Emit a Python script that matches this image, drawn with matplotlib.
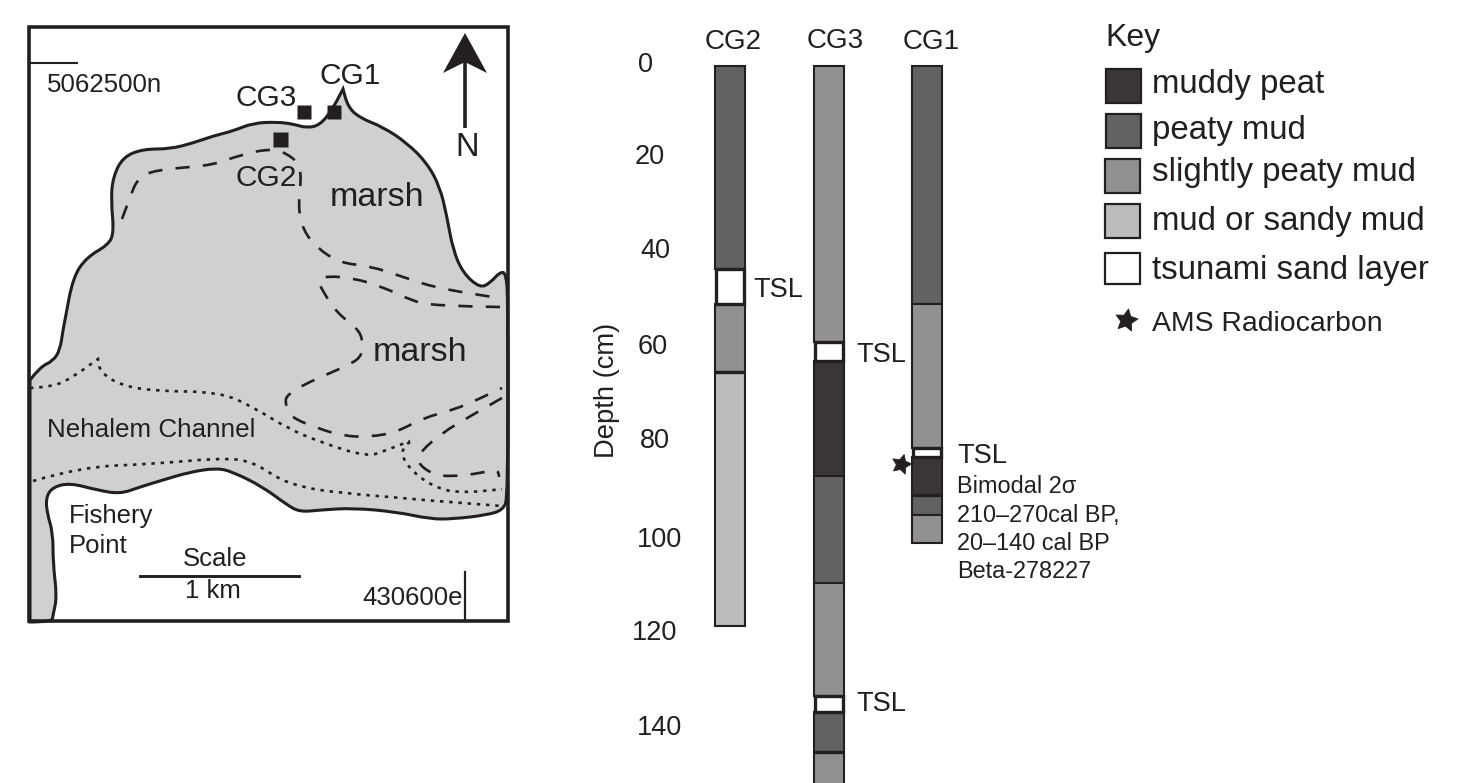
"""
Core site map and stratigraphic columns with a key
"""
import matplotlib
matplotlib.use('Agg')
import matplotlib.pyplot as plt
from matplotlib.path import Path
from matplotlib.patches import PathPatch, Rectangle, Polygon

plt.rcParams['font.family'] = ['Liberation Sans', 'DejaVu Sans']

INK = '#231f20'
MUDDY_PEAT = '#3a3536'
PEATY_MUD = '#636162'
SLIGHTLY_PEATY = '#929091'
SANDY_MUD = '#bcbcbc'
TSUNAMI = '#ffffff'
MARSH = '#d0d0d0'

# core logs: layer boundaries (cm depth) and what sits between them
cg2_depths = [0, 43.2, 50.6, 65.0, 118.8]
cg2_layers = [PEATY_MUD, TSUNAMI, SLIGHTLY_PEATY, SANDY_MUD]
cg3_depths = [0, 58.5, 62.7, 86.9, 109.6, 133.5, 136.9, 145.4, 156]
cg3_layers = [SLIGHTLY_PEATY, TSUNAMI, MUDDY_PEAT, PEATY_MUD, SLIGHTLY_PEATY, TSUNAMI, PEATY_MUD, SLIGHTLY_PEATY]
cg1_depths = [0, 50.6, 81.0, 83.0, 91.0, 95.2, 101.2]
cg1_layers = [PEATY_MUD, SLIGHTLY_PEATY, TSUNAMI, MUDDY_PEAT, PEATY_MUD, SLIGHTLY_PEATY]

# contacts drawn heavier than the rest
heavy_contact_core = [730, 829, 927]
heavy_contact_depth = [65.0, 145.4, 91.0]

dated_depth = 84.5

depth_labels = ['0', '20', '40', '60', '80', '100', '120', '140']
depth_label_x = [638, 635, 640, 638, 640, 637, 632, 637]
depth_label_y = [72, 164, 258, 354, 448, 547, 640, 735]

key_names = ['muddy peat', 'peaty mud', 'slightly peaty mud', 'mud or sandy mud', 'tsunami sand layer']
key_colors = [MUDDY_PEAT, PEATY_MUD, SLIGHTLY_PEATY, SANDY_MUD, TSUNAMI]
key_x = [1106, 1106, 1105, 1105, 1105]
key_top = [69, 114, 159, 204, 253]
key_bottom = [103, 148, 193, 238, 284]
key_text_y = [93, 139, 181, 230, 279]

# map outlines, traced in map units
coast_x = [30, 40, 53, 60, 63, 65, 73, 87, 108, 114, 111, 113, 123, 143, 170, 193, 213, 233, 253, 277,
           293, 307, 320, 332, 343, 343, 348, 360, 383, 407, 427, 440, 447, 453, 463, 480, 490, 500, 506,
           508, 508, 503, 487, 453, 430, 397, 353, 320, 300, 287, 263, 233, 217, 190, 163, 140, 120,
           97, 70, 53, 46, 47, 53, 53, 57, 53, 52, 30]
coast_y = [380, 367, 361, 350, 330, 320, 277, 257, 245, 233, 200, 177, 157, 149, 149, 143, 136, 131, 123, 122,
           124, 128, 125, 110, 89, 89, 107, 118, 127, 143, 163, 187, 217, 250, 273, 288, 283, 272, 273,
           300, 497, 510, 515, 519, 519, 512, 508, 510, 512, 505, 487, 472, 468, 472, 480, 487, 494,
           490, 483, 487, 497, 513, 533, 563, 597, 615, 622, 622]

dash_a_x = [122, 130, 137, 148, 177, 213, 240, 273, 293, 302, 298, 303, 317, 340, 370, 403, 443, 500]
dash_a_y = [219, 197, 180, 172, 168, 165, 155, 148, 157, 170, 207, 230, 248, 263, 266, 277, 290, 298]
dash_b_x = [500, 433, 410, 383, 353, 327, 318, 322, 337, 357, 363, 362, 353, 330, 303, 287, 285, 290, 317, 343,
            370, 397, 423, 453, 477, 502]
dash_b_y = [307, 306, 300, 287, 278, 276, 280, 290, 313, 328, 340, 355, 363, 373, 385, 395, 403, 417, 428, 436,
            437, 432, 418, 410, 400, 388]
dash_c_x = [502, 467, 442, 420, 417, 430, 447, 483, 499, 499]
dash_c_y = [398, 418, 433, 452, 462, 473, 477, 473, 468, 477]

dot_d_x = [30, 53, 73, 98, 98, 100, 120, 153, 220, 253, 287, 320, 367, 387, 410]
dot_d_y = [388, 387, 377, 359, 359, 372, 385, 391, 392, 407, 428, 442, 457, 450, 441]
dot_e_x = [410, 400, 407, 433, 463, 502]
dot_e_y = [442, 448, 467, 487, 494, 489]
dot_f_x = [33, 80, 153, 220, 253, 287, 353, 502]
dot_f_y = [481, 467, 464, 458, 461, 485, 495, 506]

site_x = [304, 334, 280]
site_y = [112, 112, 139]
site_size = [9.6, 9.6, 10.8]


def smooth_path(xs, ys, closed=False):
    '''Quadratic bezier path through the midpoints of a traced outline'''
    pts = list(zip(xs, ys))
    verts = [pts[0]]
    codes = [Path.MOVETO]
    for i in range(1, len(pts) - 1):
        mid = ((pts[i][0] + pts[i + 1][0]) / 2, (pts[i][1] + pts[i + 1][1]) / 2)
        if i == len(pts) - 2:
            mid = pts[i + 1]
        verts += [pts[i], mid]
        codes += [Path.CURVE3, Path.CURVE3]
    if closed:
        verts.append(pts[0])
        codes.append(Path.CLOSEPOLY)
    return Path(verts, codes)


def draw_core(ax, x_mid, depths, layers):
    '''One column, tsunami layers drawn last so their heavier border stays on top'''
    for i, colour in enumerate(layers):
        white = colour == TSUNAMI
        ax.bar(x_mid, depths[i + 1] - depths[i], bottom=depths[i], width=28.3 if white else 29.5, color=colour,
               edgecolor=INK, linewidth=2.4 if white else 1.5, zorder=3 if white else 2)


def main():
    fig = plt.figure(figsize=(14.7, 7.83), dpi=100)

    ax = fig.add_axes([0, 0, 1, 1])
    ax.set_xlim(0, 1470)
    ax.set_ylim(783, 0)
    ax.axis('off')

    # map
    ax.add_patch(PathPatch(smooth_path(coast_x, coast_y, closed=True), facecolor=MARSH, edgecolor=INK,
                           linewidth=2.2, zorder=2))
    for xs, ys in [(dash_a_x, dash_a_y), (dash_b_x, dash_b_y), (dash_c_x, dash_c_y)]:
        ax.add_patch(PathPatch(smooth_path(xs, ys), facecolor='none', edgecolor=INK, linewidth=1.9,
                               linestyle=(0, (5.4, 5.0)), zorder=3))
    for xs, ys in [(dot_d_x, dot_d_y), (dot_e_x, dot_e_y), (dot_f_x, dot_f_y)]:
        ax.add_patch(PathPatch(smooth_path(xs, ys), facecolor='none', edgecolor=INK, linewidth=1.9,
                               linestyle=(0, (1.3, 2.2)), zorder=3))
    ax.add_patch(Rectangle((29, 27), 479.5, 594, facecolor='none', edgecolor=INK, linewidth=2.6, zorder=5))
    ax.plot([29, 77], [63, 63], color=INK, lw=1.5, zorder=5)
    ax.plot([465, 465], [572, 620], color=INK, lw=1.6, zorder=5)
    ax.plot([140, 299], [575.5, 575.5], color=INK, lw=2.1, zorder=5)
    for x, y, size in zip(site_x, site_y, site_size):
        ax.plot(x, y, marker='s', ms=size, mfc=INK, mec='none', zorder=6)

    # north arrow
    ax.add_patch(Polygon([(465, 33), (487, 73), (465, 62), (443, 73)], closed=True, facecolor=INK,
                         edgecolor='none', zorder=5))
    ax.plot([465, 465], [60, 128], color=INK, lw=2.6, solid_capstyle='butt', zorder=5)

    map_text = [(47, 92, '5062500n', 18.6), (236, 106, 'CG3', 21.5), (320, 84, 'CG1', 21.5), (236, 186, 'CG2', 21.5),
                (330, 206, 'marsh', 24.5), (373, 361, 'marsh', 24.5), (47, 437, 'Nehalem Channel', 18.7),
                (69, 523, 'Fishery', 18.5), (69, 553, 'Point', 18.5), (183, 566, 'Scale', 18.5),
                (185, 598, '1 km', 18.5), (362, 605, '430600e', 18.5), (455, 156, 'N', 23.5)]
    for x, y, label, size in map_text:
        ax.text(x, y, label, fontsize=size, color=INK, ha='left', va='baseline', zorder=7)

    # core columns, y is depth in cm
    axc = fig.add_axes([0, 0, 1, 1])
    axc.patch.set_alpha(0)
    axc.set_xlim(0, 1470)
    axc.set_ylim((783 - 65.5) / 4.72, -65.5 / 4.72)
    axc.axis('off')
    draw_core(axc, 730, cg2_depths, cg2_layers)
    draw_core(axc, 829, cg3_depths, cg3_layers)
    draw_core(axc, 927, cg1_depths, cg1_layers)
    for x, depth in zip(heavy_contact_core, heavy_contact_depth):
        axc.hlines(depth, x - 15, x + 15, color=INK, lw=2.4, zorder=3)
    axc.plot(901, dated_depth, marker=(5, 1, -15), ms=15, mfc=INK, mec=INK, mew=0.5, zorder=4)

    for x, y, label in [(705, 49, 'CG2'), (807, 48, 'CG3'), (903, 49, 'CG1')]:
        ax.text(x, y, label, fontsize=20, color=INK, ha='left', va='baseline')
    for x, y, label in zip(depth_label_x, depth_label_y, depth_labels):
        ax.text(x, y, label, fontsize=19.5, color=INK, ha='left', va='baseline')
    ax.text(607, 390, 'Depth (cm)', fontsize=19.7, color=INK, rotation=90, ha='center', va='center')
    for x, y in [(753, 297), (856, 362), (856, 711), (957, 463)]:
        ax.text(x, y, 'TSL', fontsize=19.6, color=INK, ha='left', va='baseline')
    notes = ['Bimodal 2\u03c3', '210\u2013270cal BP,', '20\u2013140 cal BP', 'Beta-278227']
    for y, label in zip([493, 522, 550, 578], notes):
        ax.text(957, y, label, fontsize=16.9, color=INK, ha='left', va='baseline')

    # key
    ax.text(1105, 46, 'Key', fontsize=23, color=INK, ha='left', va='baseline')
    for i, name in enumerate(key_names):
        ax.add_patch(Rectangle((key_x[i], key_top[i]), 35, key_bottom[i] - key_top[i], facecolor=key_colors[i],
                               edgecolor=INK, linewidth=1.6))
        ax.text(1152, key_text_y[i], name, fontsize=23.8, color=INK, ha='left', va='baseline')
    ax.plot(1126, 320, marker=(5, 1, -10), ms=17, mfc=INK, mec=INK, mew=0.5)
    ax.text(1152, 331, 'AMS Radiocarbon', fontsize=20.4, color=INK, ha='left', va='baseline')

    fig.savefig('out.png', dpi=100)


main()
